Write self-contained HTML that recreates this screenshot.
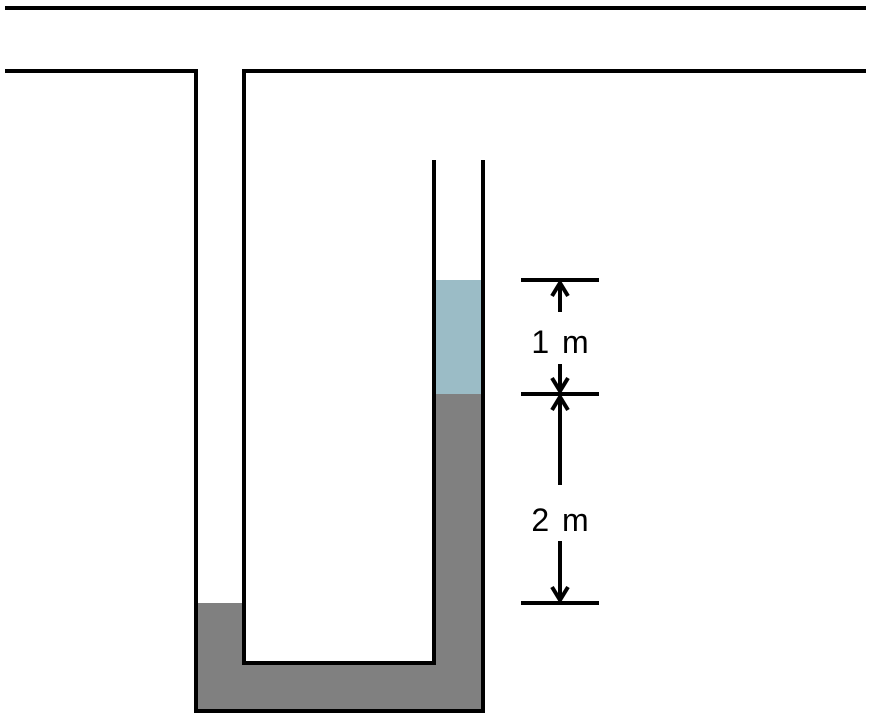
<!DOCTYPE html>
<html><head><meta charset="utf-8"><style>html,body{margin:0;padding:0;background:#fff}svg{display:block}</style></head>
<body>
<svg width="871" height="719" viewBox="0 0 871 719" xmlns="http://www.w3.org/2000/svg">
<rect x="196" y="603" width="48" height="108" fill="#808080"/>
<rect x="196" y="663" width="287" height="48" fill="#808080"/>
<rect x="434" y="394" width="49" height="317" fill="#808080"/>
<rect x="434" y="280" width="49" height="114" fill="#9bbcc6"/>
<g stroke="#000" stroke-width="4" fill="none">
<line x1="5" y1="8" x2="866" y2="8"/>
<polyline points="5,71 196,71 196,711 483,711 483,160"/>
<polyline points="866,71 244,71 244,663 434,663 434,160"/>
<line x1="521" y1="280" x2="599" y2="280"/>
<line x1="521" y1="394" x2="599" y2="394"/>
<line x1="521" y1="603" x2="599" y2="603"/>
<line x1="560" y1="283" x2="560" y2="312"/>
<polyline points="552,296 560,283 568,296"/>
<line x1="560" y1="364" x2="560" y2="391"/>
<polyline points="552,378 560,391 568,378"/>
<line x1="560" y1="397" x2="560" y2="485"/>
<polyline points="552,410 560,397 568,410"/>
<line x1="560" y1="541" x2="560" y2="600"/>
<polyline points="552,587 560,600 568,587"/>
</g>
<g font-family="Liberation Sans, DejaVu Sans, sans-serif" font-size="32" text-anchor="middle" fill="#000" letter-spacing="2">
<text x="561" y="353">1 m</text>
<text x="561" y="531">2 m</text>
</g>
</svg>
</body></html>
